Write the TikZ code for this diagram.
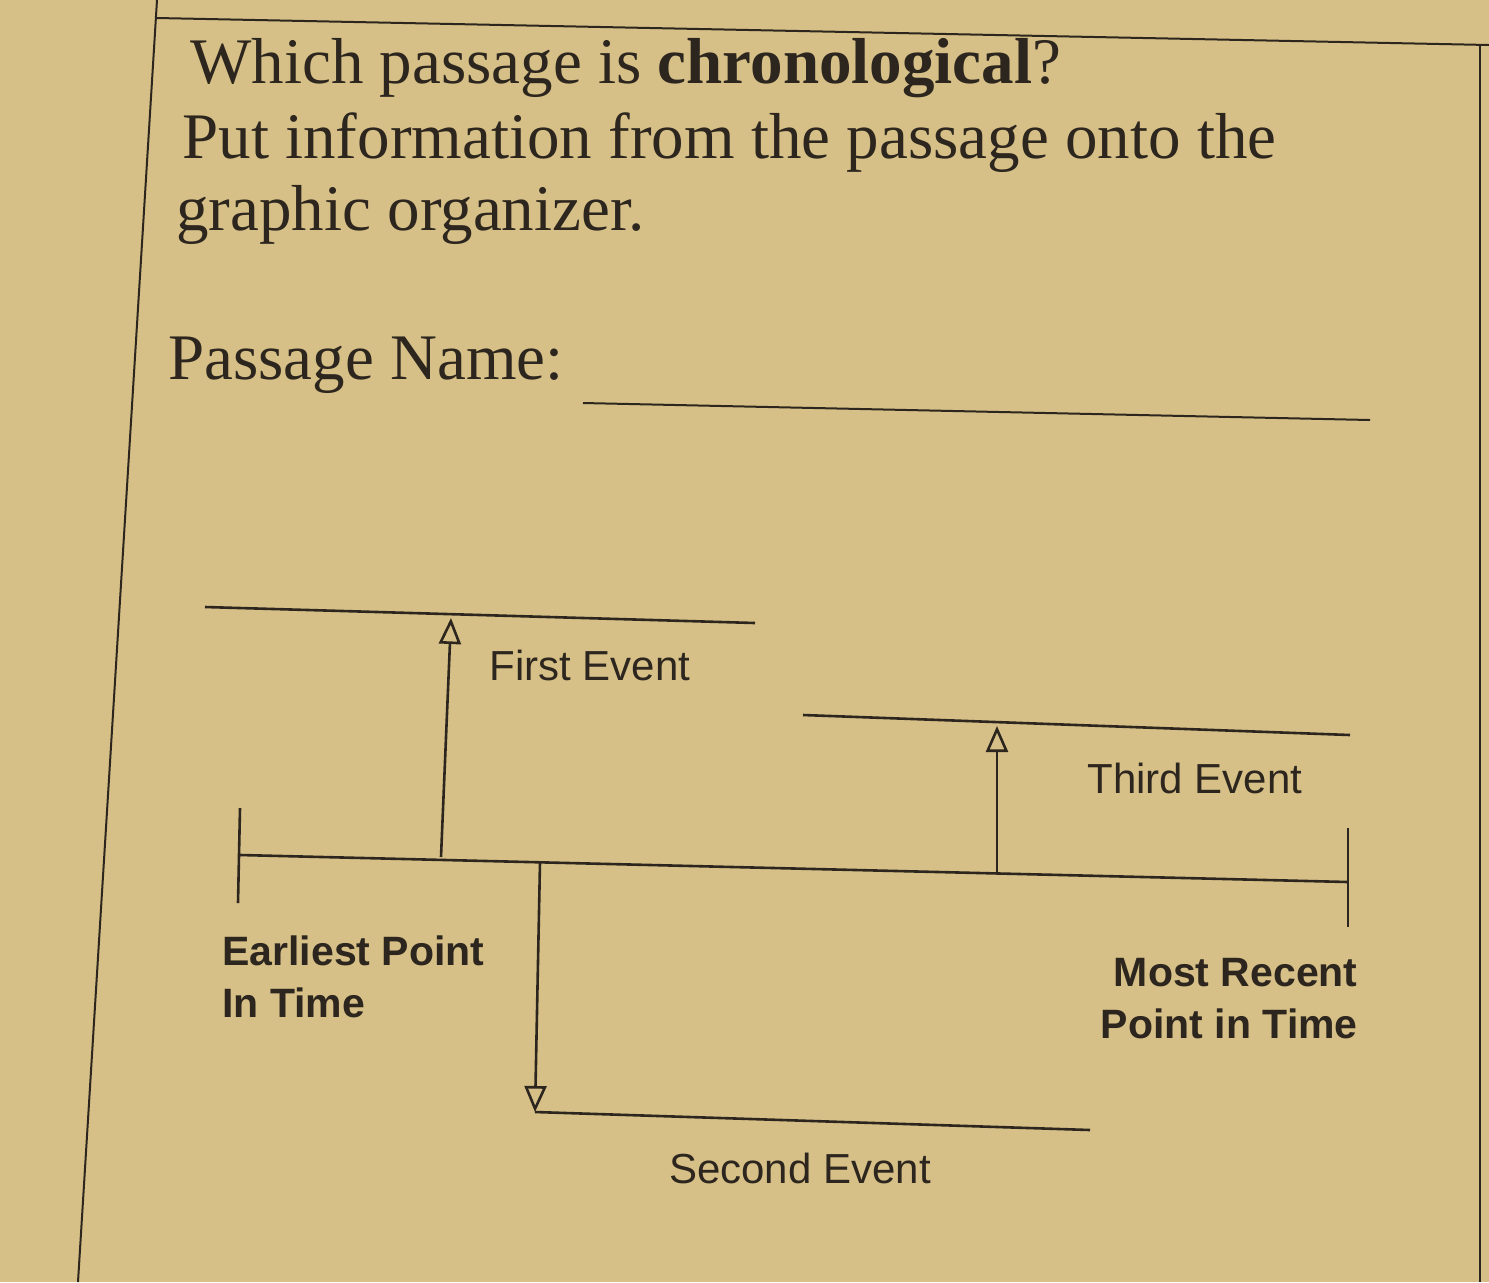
\documentclass[tikz,border=0pt]{standalone}
\usepackage{fontspec}
\setmainfont{Liberation Serif}
\newfontfamily\lab{Liberation Sans}
\usetikzlibrary{arrows.meta}
\definecolor{paper}{RGB}{214,192,135}
\definecolor{ink}{RGB}{45,38,30}
\tikzset{
  ln/.style={draw=ink,line width=1.3pt},
  ev/.style={ln,-{Triangle[open,length=13pt,width=11pt]}},
  lb/.style={font=\lab\fontsize{21}{25}\selectfont,text=ink,inner sep=0pt},
  lbb/.style={lb,font=\lab\bfseries\fontsize{20.5}{26}\selectfont},
  tt/.style={font=\fontsize{32.5}{37}\selectfont,text=ink,inner sep=0pt,anchor=west}
}
\begin{document}
\begin{tikzpicture}[x=0.5pt,y=-0.5pt]
\fill[paper] (0,0) rectangle (1489,1282);
\useasboundingbox (0,0) rectangle (1489,1282);
% frame
\coordinate (f1) at (157,0); \coordinate (f2) at (78,1282);
\coordinate (f3) at (157,18); \coordinate (f4) at (1489,45);
\coordinate (f5) at (1480,45); \coordinate (f6) at (1480,1282);
\draw[ln,line width=1pt] (f1) -- (f2);
\draw[ln,line width=1pt] (f3) -- (f4);
\draw[ln,line width=1pt] (f5) -- (f6);
% title
\node[tt] (t1) at (190,68) {Which passage is \textbf{chronological}?};
\node[tt] (t2) at (182,143) {Put information from the passage onto the};
\node[tt] (t3) at (176,215) {graphic organizer.};
\node[tt] (pn) at (168,365) {Passage Name:};
\coordinate (pl1) at (583,403); \coordinate (pl2) at (1370,420);
\draw[ln,line width=1pt] (pl1) -- (pl2);
% timeline
\coordinate (a) at (240,855); \coordinate (b) at (1348,882);
\draw[ln] (a) -- (b);
\coordinate (ta1) at (240,808); \coordinate (ta2) at (238,903);
\coordinate (tb1) at (1348,828); \coordinate (tb2) at (1348,927);
\draw[ln] (ta1) -- (ta2);
\draw[ln] (tb1) -- (tb2);
% first event
\coordinate (e1s) at (441,857); \coordinate (e1e) at (451,618);
\draw[ev] (e1s) -- (e1e);
\coordinate (l1a) at (205,607); \coordinate (l1b) at (755,623);
\draw[ln] (l1a) -- (l1b);
\node[lb] (fe) at (590,665) {First Event};
% third event
\coordinate (e3s) at (997,872); \coordinate (e3e) at (997,726);
\draw[ev] (e3s) -- (e3e);
\coordinate (l3a) at (803,715); \coordinate (l3b) at (1350,735);
\draw[ln] (l3a) -- (l3b);
\node[lb] (te) at (1195,778) {Third Event};
% second event
\coordinate (e2s) at (540,862); \coordinate (e2e) at (535,1112);
\draw[ev] (e2s) -- (e2e);
\coordinate (l2a) at (535,1112); \coordinate (l2b) at (1090,1130);
\draw[ln] (l2a) -- (l2b);
\node[lb] (se) at (800,1168) {Second Event};
% endpoints
\node[lbb,anchor=north west,align=left] (ep) at (222,935) {Earliest Point\\In Time};
\node[lbb,anchor=north east,align=right] (mr) at (1358,958) {Most Recent\\Point in Time};
\end{tikzpicture}
\end{document}
